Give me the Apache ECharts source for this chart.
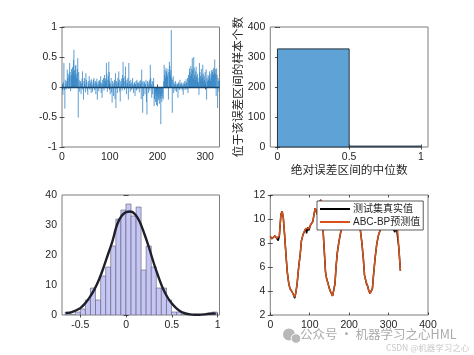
<!DOCTYPE html>
<html><head><meta charset="utf-8">
<script src="https://cdn.jsdelivr.net/npm/echarts@6/dist/echarts.min.js"></script>
<style>html,body{margin:0;padding:0;background:#fff}#c{width:474px;height:355px}</style>
</head><body><div id="c"></div>
<script>
// ---- Data ----
// Top-left: prediction error per test sample (330 samples)
const tlValues = [
 0.05,-0.13,0.08,0.40,-0.05,-0.36,0.12,0.06,-0.04,0.10,
 0.29,0.15,0.22,-0.03,0.18,0.40,0.25,-0.07,0.20,0.30,
 0.18,0.33,0.24,0.45,0.62,0.28,0.20,0.35,0.37,0.15,
 0.22,0.30,0.48,-0.51,0.25,0.12,-0.08,0.08,0.10,-0.12,
 0.06,0.14,0.26,-0.05,-0.21,0.10,0.15,0.05,-0.09,0.23,
 0.12,0.08,-0.06,-0.13,0.10,0.05,0.18,-0.04,0.11,0.07,
 -0.10,0.13,0.04,-0.08,0.09,0.12,0.15,-0.05,0.06,0.10,
 -0.12,0.08,0.14,-0.21,0.05,0.09,-0.07,0.12,0.10,0.06,
 0.18,-0.10,0.07,-0.18,0.12,0.05,0.15,-0.06,0.20,0.10,
 0.14,0.08,0.40,0.22,-0.08,0.12,0.18,0.42,0.25,0.10,
 -0.12,0.06,0.15,-0.09,-0.26,0.10,0.05,-0.15,0.08,0.12,
 -0.20,0.23,-0.35,0.10,0.06,-0.10,0.15,0.08,0.26,0.12,
 -0.08,-0.24,0.10,0.05,0.14,-0.06,0.20,0.42,0.15,0.10,
 -0.05,0.18,0.34,0.08,-0.12,0.12,0.06,0.15,-0.21,0.40,
 0.10,0.05,-0.08,0.12,0.06,-0.05,0.09,0.15,0.04,-0.10,
 0.06,0.08,-0.15,0.05,0.10,-0.06,0.12,0.07,-0.04,0.08,
 0.05,-0.09,0.10,0.06,0.12,-0.20,0.29,0.08,-0.43,0.10,
 -0.15,0.06,0.09,-0.12,0.05,0.12,-0.25,-0.46,0.10,0.05,
 -0.10,0.08,0.12,-0.06,0.37,0.15,0.05,-0.18,0.10,-0.12,
 0.08,0.15,-0.32,-0.20,-0.12,-0.25,-0.08,-0.30,-0.15,-0.32,
 -0.10,-0.22,-0.18,-0.28,-0.12,-0.20,-0.62,-0.15,-0.25,-0.10,
 -0.18,-0.21,0.10,0.37,0.20,0.28,0.15,0.32,0.26,0.22,
 0.18,0.30,-0.21,0.25,0.42,0.35,0.20,0.28,0.95,0.15,
 -0.43,0.12,0.18,-0.10,0.08,0.05,-0.06,0.10,0.04,-0.08,
 0.06,0.05,-0.18,0.08,0.04,-0.05,0.12,0.06,-0.03,0.05,
 0.08,-0.06,0.04,-0.13,0.07,0.05,0.10,-0.05,0.06,0.13,
 0.08,-0.04,0.15,-0.10,0.20,0.12,0.31,0.25,0.18,0.35,
 0.22,0.30,0.48,0.28,0.15,0.50,0.32,0.20,0.12,0.26,
 0.34,0.18,0.10,0.22,0.15,0.08,-0.13,0.40,0.25,0.18,
 0.12,0.30,0.20,0.15,0.37,0.22,0.10,0.18,0.12,0.25,
 0.08,0.29,-0.21,0.15,0.10,0.20,0.12,0.18,0.26,0.15,
 0.10,0.22,0.28,0.18,0.25,0.29,0.20,0.32,0.24,0.46,
 0.30,0.22,-0.15,0.31,0.20,-0.35,0.15,0.10,-0.08,0.12
];
const tlXTicks = [0, 100, 200, 300];
const tlYTicks = [-1, -0.5, 0, 0.5, 1];

// Top-right: count of samples per absolute-error interval
const trEdges = [0, 0.5, 1];
const trCounts = [327, 3];
const trXTicks = [0, 0.5, 1];
const trYTicks = [0, 100, 200, 300, 400];
const trXName = '绝对误差区间的中位数';
const trYName = '位于该误差区间的样本个数';

// Bottom-left: error histogram + fitted density
const blEdges = [-0.665,-0.610,-0.555,-0.499,-0.444,-0.389,-0.334,-0.278,-0.223,-0.168,-0.112,-0.057,-0.002,0.054,0.109,0.164,0.219,0.275,0.330,0.385,0.441,0.496,0.551,0.606,0.662,0.717,0.772,0.827,0.883,0.938,0.993];
const blCounts = [1,0,1,2,5,9,5,13,16,23,32,35,37,33,36,15,23,16,9,9,5,1,1,0,0,0,0,0,0,1];
const blCurveX = [-0.66,-0.6,-0.55,-0.5,-0.45,-0.4,-0.35,-0.3,-0.25,-0.2,-0.15,-0.1,-0.05,0,0.05,0.1,0.15,0.2,0.25,0.3,0.35,0.4,0.45,0.5,0.55,0.6,0.65,0.7,0.75,0.8,0.85,0.9,0.95,0.98];
const blCurveY = [0.6,0.9,1.5,2.3,3.8,5.8,8.3,11.5,15.5,20,24.5,30,33,34.3,34.5,33.5,31,27,22.5,17.5,13,9,6,3.8,2.2,1.1,0.5,0.2,0.1,0.1,0.2,0.4,0.5,0.45];
const blXTicks = [-0.5, 0, 0.5, 1];
const blYTicks = [0, 10, 20, 30, 40];

// Bottom-right: true vs predicted
const brX = [0,4,8,12,16,20,23,27,30,33,36,40,43,47,50,54,58,62,65,68,72,76,79,83,87,90,92,95,98,102,105,108,111,114,117,119,122,125,128,131,134,137,140,143,146,149,152,155,158,161,164,167,170,174,178,182,186,190,195,200,205,210,215,220,224,228,232,236,239,242,244,247,250,253,256,259,262,266,270,274,279,284,290,295,300,305,310,313,316,319,322,326,330];
const brTrue = [8.55,8.35,8.45,8.6,8.4,8.2,8.6,10.4,10.65,10.1,8.8,6.9,5.6,4.6,4.2,4.0,3.75,3.4,3.9,4.6,6.0,7.1,8.2,8.7,9.0,9.2,8.8,9.3,9.05,9.5,9.6,9.8,10.4,10.9,11.0,10.4,10.9,11.4,11.6,10.5,9.0,7.3,5.6,5.0,4.7,4.3,4.0,3.8,3.6,3.5,4.6,6.1,7.2,8.1,8.8,9.5,10.0,10.4,10.7,10.9,11.1,11.2,11.3,10.8,10.0,9.2,8.1,6.7,5.3,4.9,4.6,4.4,4.0,3.8,3.7,4.2,5.4,6.8,7.9,8.6,9.1,9.6,10.2,10.6,10.8,10.5,9.8,9.1,8.9,9.6,9.5,7.6,5.7];
const brPred = [8.55,8.35,8.45,8.6,8.4,8.35,8.6,10.4,10.65,10.1,8.8,6.9,5.6,4.6,4.2,4.0,3.75,3.5,3.9,4.6,6.0,7.1,8.2,8.7,9.0,9.2,9.1,9.3,9.2,9.5,9.6,9.8,10.4,10.9,11.0,10.4,10.9,11.4,11.6,10.5,9.0,7.3,5.6,5.0,4.9,4.3,4.0,3.8,3.6,3.5,4.6,6.1,7.2,8.1,8.8,9.5,10.0,10.4,10.7,10.9,11.1,11.2,11.3,10.8,10.0,9.2,8.1,6.7,5.3,4.9,4.75,4.4,4.0,3.8,3.7,4.2,5.4,6.8,7.9,8.6,9.1,9.6,10.2,10.6,10.8,10.5,9.8,9.3,9.5,9.7,9.5,7.6,5.7];
const brXTicks = [0, 100, 200, 300, 400];
const brYTicks = [2, 4, 6, 8, 10, 12];
const brNames = ['测试集真实值', 'ABC-BP预测值'];

// ---- Styles ----
const AX = '#262626';
const BOX = '#7d7d7d';
const NUMFONT = 'Liberation Sans, Arial, sans-serif';
const CJKFONT = 'Noto Sans CJK SC, sans-serif';

function xAxes(gi, min, max, ticks, extra) {
  const tick = {show:true, inside:true, length:2.5, customValues:ticks, lineStyle:{color:AX, width:0.8}};
  return [
    Object.assign({type:'value', gridIndex:gi, min, max, position:'bottom',
      axisLine:{show:false}, splitLine:{show:false}, axisTick:tick,
      axisLabel:{show:true, customValues:ticks, color:AX, fontSize:10.5, fontFamily:NUMFONT, margin:5}}, extra||{}),
    {type:'value', gridIndex:gi, min, max, position:'top',
      axisLine:{show:false}, splitLine:{show:false}, axisTick:tick, axisLabel:{show:false}}
  ];
}
function yAxes(gi, min, max, ticks, extra) {
  const tick = {show:true, inside:true, length:2.5, customValues:ticks, lineStyle:{color:AX, width:0.8}};
  return [
    Object.assign({type:'value', gridIndex:gi, min, max, position:'left',
      axisLine:{show:false}, splitLine:{show:false}, axisTick:tick,
      axisLabel:{show:true, customValues:ticks, color:AX, fontSize:10.5, fontFamily:NUMFONT, margin:5}}, extra||{}),
    {type:'value', gridIndex:gi, min, max, position:'right',
      axisLine:{show:false}, splitLine:{show:false}, axisTick:tick, axisLabel:{show:false}}
  ];
}

const grids = [
  {left:62, top:27, width:157.5, height:120},
  {left:270.3, top:27, width:157.7, height:120},
  {left:62, top:195, width:157.5, height:120},
  {left:270.3, top:195, width:157.7, height:120}
].map(g => Object.assign(g, {show:true, borderColor:BOX, borderWidth:1, backgroundColor:'#fff', containLabel:false, outerBoundsMode:'none'}));

const nameStyle = {fontFamily:CJKFONT, fontSize:11.7, color:AX};

const xAxisArr = [].concat(
  xAxes(0, 0, 330, tlXTicks),
  xAxes(1, -0.05, 1.05, trXTicks, {name:trXName, nameLocation:'middle', nameGap:17, nameTextStyle:nameStyle}),
  xAxes(2, -0.7, 1.02, blXTicks),
  xAxes(3, 0, 400, brXTicks)
);
const yAxisArr = [].concat(
  yAxes(0, -1, 1, tlYTicks),
  yAxes(1, 0, 400, trYTicks, {name:trYName, nameLocation:'middle', nameGap:22, nameRotate:90, nameTextStyle:nameStyle}),
  yAxes(2, 0, 40, blYTicks),
  yAxes(3, 2, 12, brYTicks)
);

function rectItem(fill, stroke, lw) {
  return function(params, api) {
    const a = api.coord([api.value(0), api.value(2)]);
    const b = api.coord([api.value(1), 0]);
    return {type:'rect', shape:{x:a[0], y:a[1], width:b[0]-a[0], height:b[1]-a[1]},
      style:{fill:fill, stroke:stroke, lineWidth:lw}};
  };
}

const tlData = tlValues.map((v, i) => [i + 1, v]);
const trData = trCounts.map((c, i) => [trEdges[i], trEdges[i+1], c]);
const blData = blCounts.map((c, i) => [blEdges[i], blEdges[i+1], c]);
const blCurve = blCurveX.map((x, i) => [x, blCurveY[i]]);
const brTrueData = brX.map((x, i) => [x, brTrue[i]]);
const brPredData = brX.map((x, i) => [x, brPred[i]]);

const option = {
  backgroundColor:'#fff',
  animation:false,
  grid:grids,
  xAxis:xAxisArr,
  yAxis:yAxisArr,
  legend:{
    show:true, orient:'vertical', left:317, top:201,
    data:[{name:brNames[0], icon:'rect'}, {name:brNames[1], icon:'rect'}],
    itemWidth:30, itemHeight:2, itemGap:3,
    padding:[3,3,3,3],
    backgroundColor:'#fff', borderColor:'#333', borderWidth:0.8,
    textStyle:{fontSize:10, fontFamily:NUMFONT + ', ' + CJKFONT, color:AX, padding:[0,0,0,-2]}
  },
  series:[
    {type:'custom', xAxisIndex:0, yAxisIndex:0, clip:true, data:tlData,
     encode:{x:0, y:1},
     renderItem:function(params, api){
       const p0 = api.coord([api.value(0), 0]);
       const p1 = api.coord([api.value(0), api.value(1)]);
       return {type:'line', shape:{x1:p0[0], y1:p0[1], x2:p1[0], y2:p1[1]},
         style:{stroke:'#2a7fc2', lineWidth:0.9, opacity:0.85}};
     },
     markLine:{silent:true, symbol:'none', label:{show:false},
       lineStyle:{color:'#16466e', width:1.3, type:'solid'}, data:[{yAxis:0}]}
    },
    {type:'custom', xAxisIndex:2, yAxisIndex:2, data:trData, encode:{x:[0,1], y:2},
     renderItem:rectItem('#5fa2d5', '#26333f', 1)},
    {type:'custom', xAxisIndex:4, yAxisIndex:4, data:blData, encode:{x:[0,1], y:2}, clip:true,
     renderItem:rectItem('#c6c6f6', '#5e5e70', 0.6)},
    {type:'line', xAxisIndex:4, yAxisIndex:4, data:blCurve, showSymbol:false, symbol:'none',
     smooth:0.3, lineStyle:{color:'#1f1f2b', width:2.4}, z:5},
    {type:'line', name:brNames[0], xAxisIndex:6, yAxisIndex:6, data:brTrueData, showSymbol:false, symbol:'none',
     lineStyle:{color:'#000000', width:1.5}, itemStyle:{color:'#000000'}},
    {type:'line', name:brNames[1], xAxisIndex:6, yAxisIndex:6, data:brPredData, showSymbol:false, symbol:'none',
     lineStyle:{color:'#D95319', width:1.5}, itemStyle:{color:'#D95319'}}
  ],
  graphic:[
    {type:'circle', shape:{cx:289, cy:334.5, r:6}, style:{fill:'#b8b8b8'}, z:100},
    {type:'circle', shape:{cx:296, cy:338.5, r:4.8}, style:{fill:'#b8b8b8', stroke:'#fff', lineWidth:1}, z:101},
    {type:'text', left:300, top:328, z:100,
     style:{text:'公众号 · 机器学习之心HML', fill:'#ababab', font:'12.5px ' + CJKFONT}},
    {type:'text', left:386, top:344, z:100,
     style:{text:'CSDN @机器学习之心', fill:'#c8c8c8', font:'8.5px ' + CJKFONT}}
  ]
};

const chart = echarts.init(document.getElementById('c'), null, {renderer:'canvas'});
chart.setOption(option);
</script></body></html>
